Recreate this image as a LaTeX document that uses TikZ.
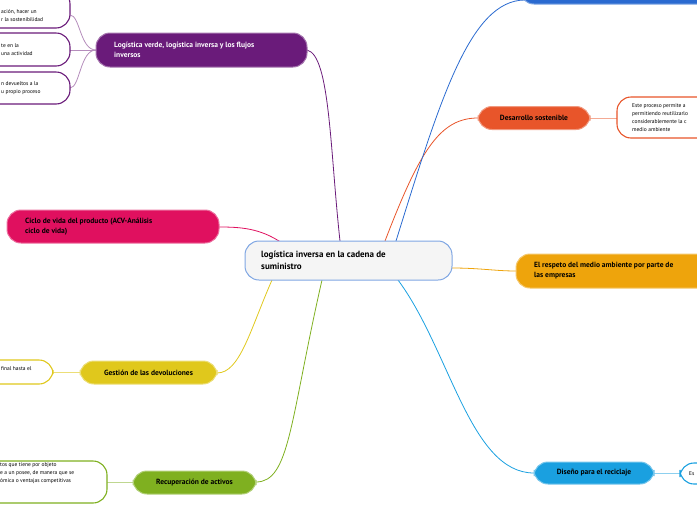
\documentclass[tikz,border=0pt]{standalone}
\usepackage{fontspec}
\setmainfont{PT Sans}
\begin{document}
\begin{tikzpicture}[x=1pt,y=-1pt,
  main/.style={rounded corners=14pt, draw=#1!60!white, line width=1pt},
  leaf/.style={rounded corners=14pt, draw=#1, line width=1.1pt, fill=white},
  lbl/.style={font=\bfseries\fontsize{7.5}{10}\selectfont, align=left, anchor=west, inner sep=0},
  small/.style={font=\fontsize{5.5}{8}\selectfont, align=left, anchor=west, inner sep=0},
  conn/.style={line width=0.8pt}]
\definecolor{cpur}{HTML}{6A1B7A}
\definecolor{cora}{HTML}{E8552A}
\definecolor{cpink}{HTML}{E0105F}
\definecolor{cyo}{HTML}{EEA40C}
\definecolor{cyel}{HTML}{E0C81C}
\definecolor{cgrn}{HTML}{7FB020}
\definecolor{ccyan}{HTML}{1AA0E0}
\definecolor{cblue}{HTML}{2A6AD0}
\useasboundingbox (0,0) rectangle (697,520);
\clip (0,0) rectangle (697,520);
% connectors
\coordinate (cP) at (340,241); \coordinate (cO) at (385,241); \coordinate (cB) at (396,241);
\coordinate (cK) at (282,243); \coordinate (cY) at (452,268); \coordinate (cL) at (272,280);
\coordinate (cG) at (322,280); \coordinate (cC) at (398,280);
\draw[conn,cpur] (cP) .. controls (330,150) and (330,55) .. (307,50);
\draw[conn,cora] (cO) .. controls (420,150) and (440,118) .. (478,118);
\draw[conn,cblue] (cB) .. controls (440,100) and (470,0) .. (525,0);
\draw[conn,cpink] (cK) .. controls (260,228) and (240,227) .. (219,227);
\draw[conn,cyo] (cY) .. controls (480,268) and (495,271) .. (516,271);
\draw[conn,cyel] (cL) .. controls (250,330) and (240,373) .. (217,373);
\draw[conn,cgrn] (cG) .. controls (290,420) and (290,482) .. (256,482);
\draw[conn,ccyan] (cC) .. controls (450,350) and (470,473) .. (534,473);
% leaf connectors
\draw[conn,cpur!50] (96,50) .. controls (80,50) and (80,15) .. (70,15);
\draw[conn,cpur!50] (96,50) -- (70,50);
\draw[conn,cpur!50] (96,50) .. controls (80,50) and (80,88) .. (70,88);
\draw[conn,cora!50] (590,118) -- (617,118);
\draw[conn,cyel!60] (80,372) -- (53,372);
\draw[conn,cgrn!50] (133,482) -- (107,482);
\draw[conn,ccyan!50] (654,473) -- (680,473);
% center
\node[main=cblue, fill=gray!8, minimum width=207pt, minimum height=39pt] (center) at (348.5,260.5) {};
\node[lbl, font=\bfseries\fontsize{9}{12}\selectfont] (ct) at (261,260.5) {logística inversa en la cadena de\\suministro};
% purple
\node[main=cpur, fill=cpur, minimum width=211pt, minimum height=34pt] (pur) at (201.5,50) {};
\node[lbl, text=white] (purt) at (114,50) {Logística verde, logística inversa y los flujos\\inversos};
\draw[leaf=cpur] (-30,-10) rectangle (70,28);
\node[small] (p1) at (1,16) {ación, hacer un\\r la sostenibilidad};
\draw[leaf=cpur] (-30,33) rectangle (70,66);
\node[small] (p2) at (1,50) {te en la\\una actividad};
\draw[leaf=cpur] (-30,72) rectangle (70,104);
\node[small] (p3) at (1,88) {n devueltos a la\\u propio proceso};
% blue top
\draw[main=cblue, fill=cblue] (520,-30) rectangle (720,4);
% orange
\node[main=cora, fill=cora, minimum width=112pt, minimum height=23pt] (ora) at (534,118) {};
\node[lbl, anchor=center] (orat) at (534,118) {Desarrollo sostenible};
\draw[leaf=cora] (617,97) rectangle (740,138);
\node[small] (o1) at (632,117.5) {Este proceso permite a\\permitiendo reutilizarlo\\considerablemente la c\\medio ambiente};
% pink
\node[main=cpink, fill=cpink, minimum width=212pt, minimum height=33pt] (pink) at (113,226.5) {};
\node[lbl] (pinkt) at (25,226.5) {Ciclo de vida del producto (ACV-Análisis\\ciclo de vida)};
% yellow-orange
\draw[main=cyo, fill=cyo] (516,254) rectangle (740,288);
\node[lbl] (yot) at (534,271) {El respeto del medio ambiente por parte de\\las empresas};
% yellow
\node[main=cyel, fill=cyel, minimum width=137pt, minimum height=23pt] (yel) at (148.5,372.5) {};
\node[lbl, anchor=center] (yelt) at (148.5,372.5) {Gestión de las devoluciones};
\draw[leaf=cyel] (-40,360) rectangle (53,384);
\node[small] (y1) at (1,369) {final hasta el};
% green
\node[main=cgrn, fill=cgrn, minimum width=123pt, minimum height=23pt] (grn) at (194.5,482.5) {};
\node[lbl, anchor=center] (grnt) at (194.5,482.5) {Recuperación de activos};
\draw[leaf=cgrn] (-40,461) rectangle (107,503);
\node[small] (g1) at (0,473) {tos que tiene por objeto\\e a un posee, de manera que se\\ómica o ventajas competitivas};
% cyan
\node[main=ccyan, fill=ccyan, minimum width=120pt, minimum height=22pt] (cy) at (594,473) {};
\node[lbl, anchor=center] (cyt) at (594,473) {Diseño para el reciclaje};
\draw[leaf=ccyan] (680,463) rectangle (760,484);
\node[small] (c1) at (689,473.5) {Es};
\end{tikzpicture}
\end{document}
